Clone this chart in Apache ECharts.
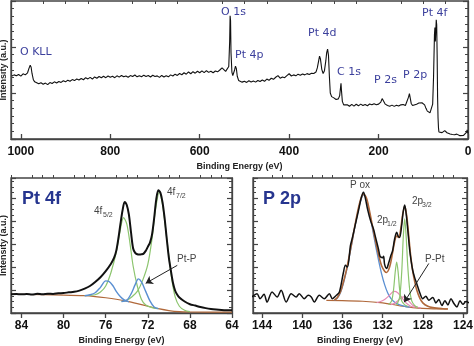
<!DOCTYPE html>
<html>
<head>
<meta charset="utf-8">
<script src="https://cdn.jsdelivr.net/npm/echarts@6/dist/echarts.min.js"></script>
<style>
  html, body { margin: 0; padding: 0; background: #fff; }
  #chart { width: 474px; height: 346px; }
</style>
</head>
<body>
<div id="chart"></div>
<script>
// ---- Survey spectrum: [binding energy (eV), intensity (a.u.)] ----
const surveySpectrum = [
  [1020,45.2],[1015,46.0],[1010,45.4],[1005,46.3],[1000,45.1],[995,46.8],[990,46.0],[985,47.5],
  [982,50.5],[979,53.0],[977,51.5],[975,47.0],[972,42.5],[969,41.0],[966,40.2],
  [960,39.6],[955,40.4],[950,39.3],[945,40.1],[940,39.0],[935,40.5],[930,39.8],[925,41.0],[920,40.2],
  [915,41.3],[910,40.6],[905,41.8],[900,41.0],[895,42.2],[890,41.4],[885,42.6],[880,41.9],[875,43.0],
  [870,42.3],[865,43.4],[860,42.5],[855,44.0],[850,43.1],[845,44.2],[840,43.0],[835,44.5],[830,43.6],
  [825,44.8],[820,43.9],[815,45.0],[810,44.0],[805,45.2],[800,44.3],[795,45.0],[790,44.0],[785,45.3],
  [780,44.4],[775,45.6],[770,44.6],[765,45.2],[760,44.3],[755,45.5],[750,44.8],[745,45.9],[740,44.6],
  [735,45.4],[730,44.7],[725,45.8],[720,44.9],[715,45.5],[710,44.5],[705,45.7],[700,44.9],[695,45.3],
  [690,44.2],[685,45.6],[680,44.5],[675,45.4],[670,44.6],[665,46.0],[660,45.2],[655,46.5],[650,45.6],
  [645,47.0],[640,46.1],[635,47.5],[630,46.5],[625,48.1],[620,46.8],[615,48.3],[610,47.2],[605,48.6],
  [600,47.5],[595,48.9],[590,47.6],[585,49.0],[580,47.8],[575,48.6],[570,47.5],[565,48.8],[560,48.2],
  [555,49.5],[550,51.0],[546,50.2],[542,48.5],[538,48.0],[535,52.0],[533,70.0],[532,88.4],[531,85.0],
  [530,62.0],[528,48.0],[526,45.5],[524,46.0],[522,49.5],[520,52.2],[518,50.5],[516,45.0],[513,42.0],
  [510,41.0],[505,40.8],[500,41.5],[495,40.6],[490,41.8],[485,40.9],[480,41.6],[475,40.8],[470,42.0],
  [465,41.2],[460,42.3],[455,41.4],[450,43.0],[445,42.1],[440,43.6],[435,42.8],[430,44.3],[425,45.5],
  [420,43.6],[415,44.5],[410,44.0],[405,45.5],[400,46.8],[395,45.2],[390,46.0],[385,45.3],[380,46.5],
  [375,45.8],[370,46.7],[365,46.0],[360,46.9],[355,46.3],[350,47.2],[345,47.0],[340,48.0],[337,51.0],
  [334,56.0],[332,59.4],[330,57.5],[327,50.0],[324,47.0],[321,49.0],[318,56.0],[316,62.0],[314,64.5],
  [312,60.0],[310,45.0],[308,33.0],[305,30.4],[300,29.5],[295,28.3],[290,28.8],[287,31.0],[285,37.0],
  [284,39.9],[283,35.0],[281,27.0],[278,24.5],[275,23.9],[270,24.6],[265,23.5],[260,24.8],[255,23.6],
  [250,24.9],[245,23.8],[240,25.0],[235,24.0],[230,24.8],[225,23.9],[220,25.1],[215,24.5],[210,25.3],
  [205,24.6],[200,25.0],[195,26.5],[192,29.0],[190,30.4],[188,28.5],[185,25.0],[180,24.0],[175,23.5],
  [170,24.3],[165,23.4],[160,24.2],[155,23.6],[150,24.5],[145,24.8],[140,24.0],[136,25.0],[133,30.0],
  [131,32.6],[129,31.5],[127,25.5],[124,24.0],[120,23.8],[115,25.0],[110,25.8],[106,26.5],[103,26.0],
  [100,26.8],[97,24.5],[94,22.0],[91,20.0],[88,19.0],[85,18.8],[82,20.0],[79,25.0],[77,45.0],[75,75.0],
  [74,80.0],[73,70.0],[71,85.5],[70,82.0],[69,60.0],[68,30.0],[67,15.0],[66,8.0],[65,5.0],[62,4.3],
  [58,4.6],[55,5.0],[52,6.0],[50,5.5],[47,4.5],[44,4.0],[40,3.6],[35,3.2],[30,3.0],[27,2.8],[25,3.5],
  [22,2.5],[18,2.4],[15,2.2],[10,2.6],[6,3.2],[3,5.0],[2,6.5],[1,5.5],[0,4.0]
];

// ---- Pt 4f region ----
const pt4fMeasured = [
  [85,13.9],[84.5,14.1],[84,13.8],[83.5,14.0],[83,13.7],[82.5,14.2],[82,13.9],[81.5,14.3],[81,14.1],
  [80.5,14.6],[80,14.8],[79.5,15.3],[79,15.7],[78.5,16.6],[78,18.0],[77.5,20.0],[77,23.0],[76.5,26.5],
  [76,31],[75.5,36.5],[75.2,41],[75,46],[74.8,55],[74.6,66],[74.4,76],[74.2,82.3],[74.0,80],[73.8,73],
  [73.6,60],[73.4,48],[73.2,44.5],[73,43.5],[72.8,43.3],[72.6,43.5],[72.4,44],[72.2,46],[72,49],
  [71.8,52],[71.6,58],[71.4,70],[71.2,84],[71.0,90.9],[70.8,89],[70.6,82],[70.4,70],[70.2,55],[70.0,41],
  [69.8,31],[69.6,22],[69.4,16.5],[69.2,13.5],[69,11.5],[68.5,8.5],[68,6.5],[67.5,5.5],[67,4.4],
  [66.5,3.6],[66,3.0],[65.5,2.6],[65,2.3],[64.5,2.1],[64,2.0]
];
const pt4fBackground = [
  [85,13.8],[82,13.6],[80,13.3],[78,12.8],[77,12.2],[76,11.3],[75,10.2],[74,8.8],[73,7.0],[72,5.0],
  [71,3.2],[70,1.8],[69,1.0],[68,0.8],[64,0.6]
];
const pt4fMetal52 = [
  [78,12.8],[77,13.5],[76.5,15.5],[76,20],[75.5,30],[75,45],[74.7,58],[74.3,70.7],[74,66],[73.7,52],
  [73.4,35],[73,20],[72.6,10],[72.2,6],[71.5,3.8],[71,3.2]
];
const pt4fMetal72 = [
  [74.5,8.5],[74,9.5],[73.5,12],[73,16],[72.5,24],[72,36],[71.6,55],[71.3,75],[70.9,89.5],[70.6,80],
  [70.3,62],[70,42],[69.7,24],[69.4,12],[69,5],[68.5,2],[68,1]
];
const pt4fPtP52 = [
  [78,12.8],[77.5,13.5],[77,15],[76.5,19],[76,23.8],[75.7,23.5],[75.3,20],[75,16],[74.6,12],[74.2,9.5],[73.8,8.2]
];
const pt4fPtP72 = [
  [74.5,8.5],[74,9.5],[73.6,14],[73.2,21],[72.9,25.3],[72.6,23],[72.2,16],[71.8,9],[71.4,4.5],[71,3.2]
];

// ---- P 2p region ----
const p2pMeasured = [
  [145.0,12.0],[144.5,14.3],[144.2,10.6],[143.8,13.8],[143.5,8.1],[143.0,15.5],[142.5,11.9],[142.1,16.8],
  [141.6,8.1],[141.1,14.3],[140.6,11.9],[140.3,14.3],[139.8,10.6],[139.4,13.1],[139.1,11.9],[138.8,8.1],
  [138.3,13.1],[137.8,10.6],[137.3,14.3],[137.0,10.6],[136.6,13.1],[136.3,15.5],[135.9,30],[135.7,35.3],
  [135.5,34],[135.2,50],[135.0,56],[134.7,66],[134.4,75.8],[134.1,86],[133.9,89.4],[133.7,84.4],
  [133.5,77],[133.2,68.4],[132.9,62],[132.7,56],[132.4,47],[132.25,41.9],[132.0,41],[131.9,42],
  [131.8,36],[131.6,33],[131.4,37],[131.2,42],[131.0,46.3],[130.8,55],[130.6,59.8],[130.45,57],
  [130.3,56],[130.1,65],[129.95,75],[129.8,80],[129.65,73],[129.5,62],[129.3,46.3],[129.15,38],
  [129.0,31.5],[128.8,26],[128.6,21.7],[128.3,15],[128.0,10.6],[127.7,12.5],[127.4,9.5],[127.0,11.5],
  [126.7,7.5],[126.4,10],[126.1,5.5],[125.8,9],[125.5,6],[125.2,10.5],[124.9,7],[124.6,4.5],[124.3,9],
  [124.0,6.5],[123.7,8.5],[123.4,7.5]
];
const p2pEnvelope = [
  [136.8,9.5],[136.5,11.5],[136.2,15.5],[135.9,23],[135.6,32],[135.3,43],[135.0,55],[134.7,67],[134.4,78],
  [134.1,86],[133.9,88],[133.6,85],[133.3,75.5],[133.0,64],[132.7,53],[132.4,43],[132.1,35],[131.8,31],
  [131.6,30],[131.4,32],[131.2,37],[131.0,45],[130.8,53],[130.6,57],[130.4,56],[130.2,62],[130.0,73],
  [129.8,79],[129.6,72],[129.4,57],[129.2,42],[129.0,31],[128.8,23],[128.6,17],[128.3,11],[128.0,7.5],
  [127.5,5],[127,4],[126,3.2],[125.5,3.0]
];
const p2pBackground = [
  [137.6,9.3],[136,9.2],[134,8.7],[132,7.5],[131,6.3],[130,5.0],[129,4.0],[128,3.4],[126,3.0],[125.5,3.0]
];
const p2pOxide = [
  [136.8,9.5],[136.5,11],[136.2,15],[135.9,22],[135.6,31],[135.3,42],[135.0,54],[134.7,66],[134.4,77],
  [134.1,85],[133.9,87.5],[133.6,84],[133.3,74],[133.0,62],[132.7,50],[132.4,39],[132.1,29],[131.8,21],
  [131.5,15],[131.2,11],[130.8,8],[130.3,6],[129.8,5],[129.3,4.3]
];
const p2pElem12 = [
  [131.4,6.2],[131.1,9],[130.9,18],[130.75,30],[130.6,37.7],[130.45,30],[130.3,17],[130.1,9],[129.8,6],[129.5,5]
];
const p2pElem32 = [
  [130.6,6],[130.3,12],[130.1,30],[129.95,55],[129.8,69.7],[129.65,56],[129.5,35],[129.3,17],[129.1,9],
  [128.8,5.5],[128.5,4.2]
];
const p2pPPtA = [
  [132.6,7.6],[132.2,8.5],[131.8,10],[131.4,12.5],[131.0,15.5],[130.8,16],[130.5,15],[130.2,12.5],
  [129.9,9.5],[129.6,7],[129.2,5],[128.8,4.2]
];
const p2pPPtB = [
  [131.2,6.2],[130.8,7.2],[130.5,9],[130.2,11],[129.9,12],[129.6,10.5],[129.3,8],[129.0,5.8],[128.6,4.4],[128.2,3.6]
];

// ---- Tick values ----
const surveyMajor = [0, 200, 400, 600, 800, 1000];
const surveyMinor = [50, 100, 150, 250, 300, 350, 450, 500, 550, 650, 700, 750, 850, 900, 950];
const pt4fMajor = [64, 68, 72, 76, 80, 84];
const pt4fMinor = [65, 66, 67, 69, 70, 71, 73, 74, 75, 77, 78, 79, 81, 82, 83, 85];
const p2pMajor = [124, 128, 132, 136, 140, 144];
const p2pMinor = [125, 126, 127, 129, 130, 131, 133, 134, 135, 137, 138, 139, 141, 142, 143];

const AXIS = '#444';
const LABEL_FONT = 'Liberation Sans, Arial, sans-serif';
const NOTE_FONT = 'DejaVu Sans, Verdana, sans-serif';
const PEAK_BLUE = '#3b3f9c';
const TITLE_BLUE = '#26358f';
const C_GREEN = '#8cc56e';
const C_BLUE = '#5a8fd2';
const C_BROWN = '#b0683a';
const C_PINK = '#e68ab4';

function mainX(grid, min, max, ticks, outside) {
  return {
    type: 'value', gridIndex: grid, min: min, max: max, inverse: true,
    axisLine: { show: true, onZero: false, lineStyle: { color: AXIS, width: 1.3 } },
    axisTick: { show: true, inside: !outside, length: 5, customValues: ticks, lineStyle: { color: AXIS, width: 1.3 } },
    axisLabel: { customValues: ticks, fontFamily: LABEL_FONT, fontWeight: 'bold', fontSize: 12, color: '#111', margin: 7,
                 showMinLabel: true, showMaxLabel: true, hideOverlap: false,
                 formatter: function (v) { return String(Math.round(v)); } },
    splitLine: { show: false },
    name: 'Binding Energy (eV)', nameLocation: 'middle', nameGap: 23,
    nameTextStyle: { fontFamily: LABEL_FONT, fontWeight: 'bold', fontSize: 9, color: '#222' }
  };
}
function minorX(grid, min, max, ticks, outside) {
  return {
    type: 'value', gridIndex: grid, min: min, max: max, inverse: true,
    axisLine: { show: false, onZero: false },
    axisTick: { show: true, inside: !outside, length: 3, customValues: ticks, lineStyle: { color: AXIS, width: 1 } },
    axisLabel: { show: false }, splitLine: { show: false }
  };
}
function sideY(grid, max, interval, split, pos, named) {
  const ax = {
    type: 'value', gridIndex: grid, min: 0, max: max, interval: interval, position: pos,
    axisLine: { show: true, onZero: false, lineStyle: { color: AXIS, width: 1.3 } },
    axisTick: { show: true, inside: true, length: 5, lineStyle: { color: AXIS, width: 1.2 } },
    minorTick: { show: true, splitNumber: split, length: 3, lineStyle: { color: AXIS, width: 1 } },
    axisLabel: { show: false }, splitLine: { show: false }, minorSplitLine: { show: false }
  };
  if (named) {
    ax.name = 'Intensity (a.u.)';
    ax.nameLocation = 'middle';
    ax.nameGap = 3;
    ax.nameTextStyle = { fontFamily: LABEL_FONT, fontWeight: 'bold', fontSize: 9, color: '#222' };
  }
  return ax;
}
function curve(data, color, width, xi, yi, z) {
  return {
    type: 'line', data: data, xAxisIndex: xi, yAxisIndex: yi, showSymbol: false, smooth: 0.3,
    lineStyle: { color: color, width: width }, z: z || 2, silent: true
  };
}
function panelGrid(left, top, width, height) {
  return { left: left, top: top, width: width, height: height, show: true, borderColor: AXIS, borderWidth: 1.3,
           containLabel: false, outerBoundsMode: 'none' };
}

const chart = echarts.init(document.getElementById('chart'), null, { renderer: 'canvas' });

const option = {
  animation: false,
  backgroundColor: '#fff',
  grid: [
    panelGrid(11, 1, 457, 138),
    panelGrid(11, 178, 221, 135),
    panelGrid(253, 178, 214, 135)
  ],
  xAxis: [
    mainX(0, 0, 1022, surveyMajor, false),
    minorX(0, 0, 1022, surveyMinor, false),
    mainX(1, 64, 85, pt4fMajor, true),
    minorX(1, 64, 85, pt4fMinor, true),
    mainX(2, 123.6, 144.9, p2pMajor, true),
    minorX(2, 123.6, 144.9, p2pMinor, true)
  ],
  yAxis: [
    sideY(0, 99, 33, 6, 'left', true),
    sideY(0, 99, 33, 6, 'right', false),
    sideY(1, 100, 17, 4, 'left', true),
    sideY(1, 100, 17, 4, 'right', false),
    sideY(2, 100, 17, 4, 'left', false),
    sideY(2, 100, 17, 4, 'right', false)
  ],
  series: [
    // survey
    Object.assign(curve(surveySpectrum, '#111', 1.1, 0, 0, 3), { smooth: false }),

    // Pt 4f fit components
    curve(pt4fBackground, C_BROWN, 1.2, 2, 2),
    curve(pt4fMetal52, C_GREEN, 1.2, 2, 2),
    curve(pt4fMetal72, C_GREEN, 1.2, 2, 2),
    curve(pt4fPtP52, C_BLUE, 1.4, 2, 2),
    curve(pt4fPtP72, C_BLUE, 1.4, 2, 2),
    Object.assign(curve(pt4fMeasured, '#111', 2, 2, 2, 4), {
      markLine: {
        silent: true, symbol: ['none', 'arrow'], symbolSize: 7, animation: false,
        label: { show: false }, lineStyle: { color: '#222', width: 1, type: 'solid' },
        data: [[{ coord: [69.2, 35.3] }, { coord: [72.2, 22] }]]
      }
    }),

    // P 2p fit components
    curve(p2pBackground, C_BROWN, 1.2, 4, 4),
    curve(p2pOxide, C_BLUE, 1.3, 4, 4),
    curve(p2pPPtA, C_PINK, 1.2, 4, 4),
    curve(p2pPPtB, C_PINK, 1.2, 4, 4),
    curve(p2pElem12, C_GREEN, 1.2, 4, 4),
    curve(p2pElem32, C_GREEN, 1.2, 4, 4),
    curve(p2pEnvelope, C_BROWN, 1.6, 4, 4, 3),
    Object.assign(curve(p2pMeasured, '#111', 1.5, 4, 4, 4), {
      markLine: {
        silent: true, symbol: ['none', 'arrow'], symbolSize: 7, animation: false,
        label: { show: false }, lineStyle: { color: '#222', width: 1, type: 'solid' },
        data: [[{ coord: [127.4, 36.7] }, { coord: [129.85, 8] }]]
      }
    })
  ],
  graphic: [
    // survey peak assignments
    { type: 'text', x: 20, y: 52, style: { text: 'O KLL', font: '11px ' + NOTE_FONT, fill: PEAK_BLUE, textVerticalAlign: 'middle' } },
    { type: 'text', x: 221, y: 12, style: { text: 'O 1s', font: '11px ' + NOTE_FONT, fill: PEAK_BLUE, textVerticalAlign: 'middle' } },
    { type: 'text', x: 235, y: 55, style: { text: 'Pt 4p', font: '11px ' + NOTE_FONT, fill: PEAK_BLUE, textVerticalAlign: 'middle' } },
    { type: 'text', x: 308, y: 33, style: { text: 'Pt 4d', font: '11px ' + NOTE_FONT, fill: PEAK_BLUE, textVerticalAlign: 'middle' } },
    { type: 'text', x: 337, y: 72, style: { text: 'C 1s', font: '11px ' + NOTE_FONT, fill: PEAK_BLUE, textVerticalAlign: 'middle' } },
    { type: 'text', x: 374, y: 80, style: { text: 'P 2s', font: '11px ' + NOTE_FONT, fill: PEAK_BLUE, textVerticalAlign: 'middle' } },
    { type: 'text', x: 403, y: 75, style: { text: 'P 2p', font: '11px ' + NOTE_FONT, fill: PEAK_BLUE, textVerticalAlign: 'middle' } },
    { type: 'text', x: 422, y: 13, style: { text: 'Pt 4f', font: '11px ' + NOTE_FONT, fill: PEAK_BLUE, textVerticalAlign: 'middle' } },

    // panel titles
    { type: 'text', x: 22, y: 199, style: { text: 'Pt 4f', font: 'bold 18px ' + LABEL_FONT, fill: TITLE_BLUE, textVerticalAlign: 'middle' } },
    { type: 'text', x: 263, y: 199, style: { text: 'P 2p', font: 'bold 18px ' + LABEL_FONT, fill: TITLE_BLUE, textVerticalAlign: 'middle' } },

    // Pt 4f component labels
    { type: 'text', x: 94, y: 211, style: { text: '4f', font: '10px ' + LABEL_FONT, fill: '#444', textVerticalAlign: 'middle' } },
    { type: 'text', x: 103, y: 215, style: { text: '5/2', font: '7px ' + LABEL_FONT, fill: '#444', textVerticalAlign: 'middle' } },
    { type: 'text', x: 167, y: 192, style: { text: '4f', font: '10px ' + LABEL_FONT, fill: '#444', textVerticalAlign: 'middle' } },
    { type: 'text', x: 176, y: 196, style: { text: '7/2', font: '7px ' + LABEL_FONT, fill: '#444', textVerticalAlign: 'middle' } },
    { type: 'text', x: 177, y: 259, style: { text: 'Pt-P', font: '10px ' + LABEL_FONT, fill: '#444', textVerticalAlign: 'middle' } },

    // P 2p component labels
    { type: 'text', x: 350, y: 185, style: { text: 'P ox', font: '10px ' + LABEL_FONT, fill: '#444', textVerticalAlign: 'middle' } },
    { type: 'text', x: 377, y: 220, style: { text: '2p', font: '10px ' + LABEL_FONT, fill: '#444', textVerticalAlign: 'middle' } },
    { type: 'text', x: 387, y: 224, style: { text: '1/2', font: '7px ' + LABEL_FONT, fill: '#444', textVerticalAlign: 'middle' } },
    { type: 'text', x: 412, y: 201, style: { text: '2p', font: '10px ' + LABEL_FONT, fill: '#444', textVerticalAlign: 'middle' } },
    { type: 'text', x: 422, y: 205, style: { text: '3/2', font: '7px ' + LABEL_FONT, fill: '#444', textVerticalAlign: 'middle' } },
    { type: 'text', x: 425, y: 259, style: { text: 'P-Pt', font: '10px ' + LABEL_FONT, fill: '#444', textVerticalAlign: 'middle' } }
  ]
};

chart.setOption(option);
</script>
</body>
</html>
